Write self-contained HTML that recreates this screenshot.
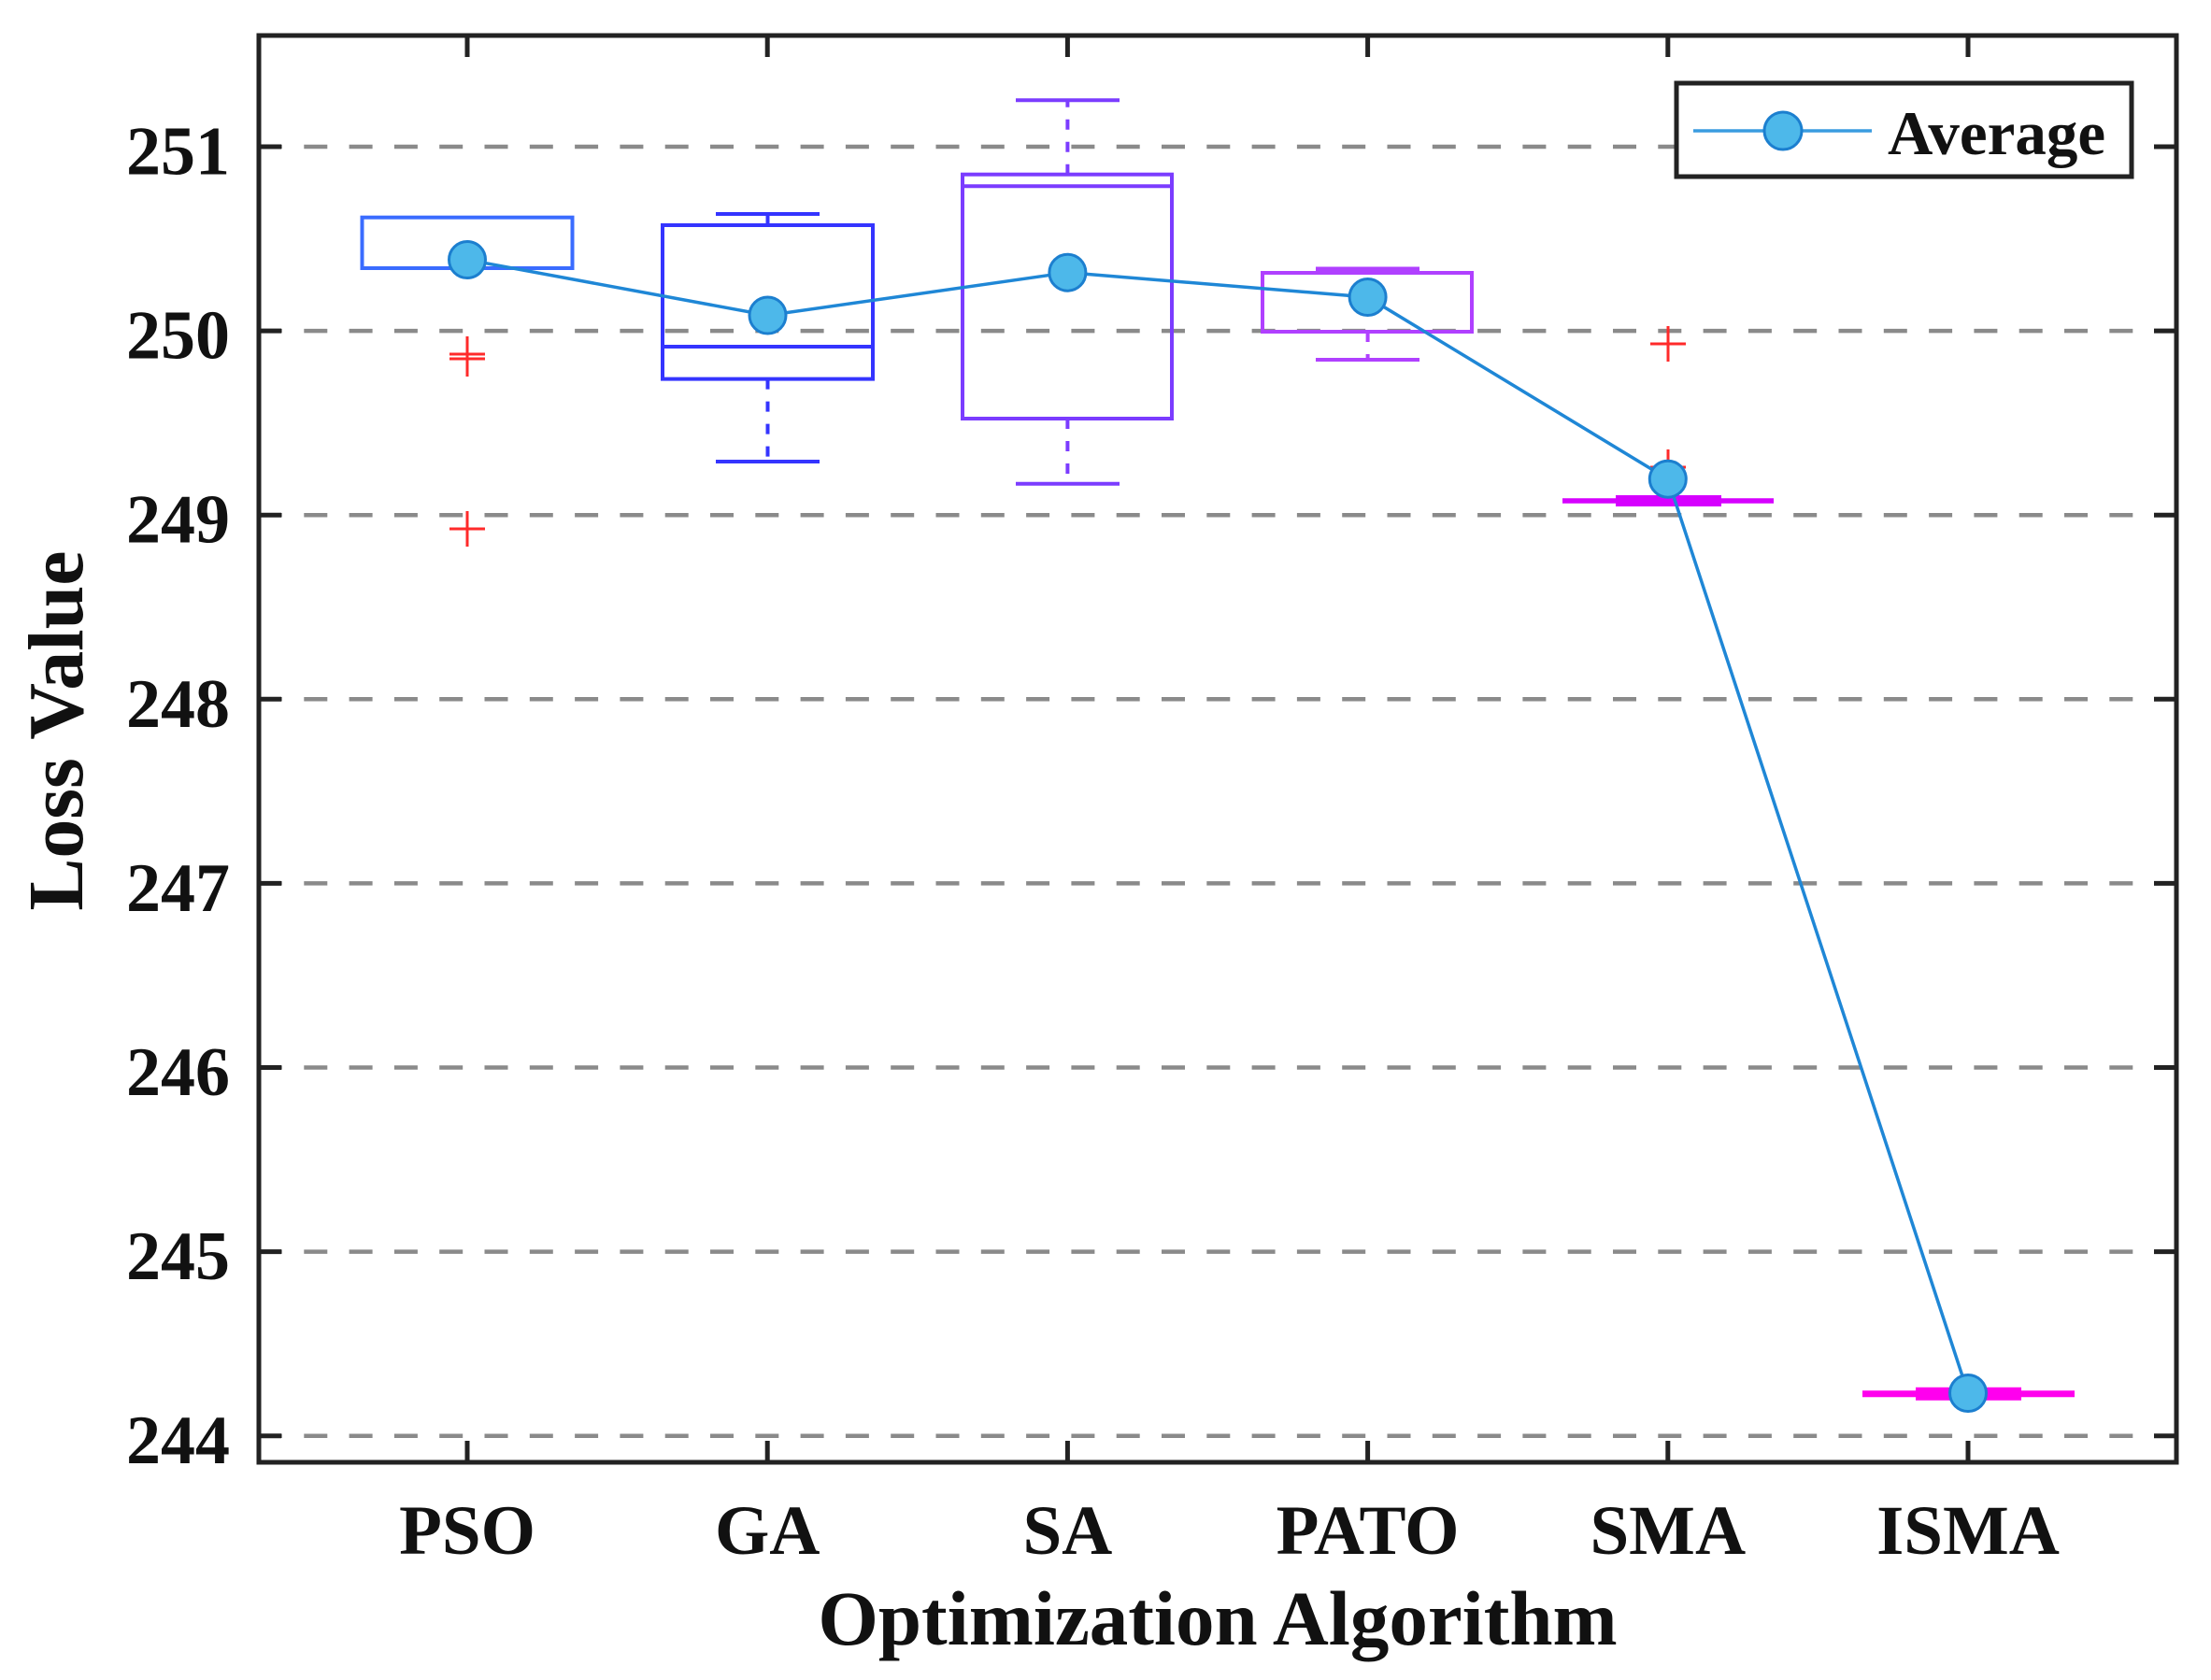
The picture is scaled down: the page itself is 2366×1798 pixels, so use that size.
<!DOCTYPE html>
<html><head><meta charset="utf-8"><style>
html,body{margin:0;padding:0;background:#fff;}
svg{display:block;}
text{font-family:"Liberation Serif","Times New Roman",serif;font-weight:bold;fill:#111;}
</style></head><body>
<svg width="2366" height="1798" viewBox="0 0 2366 1798" xmlns="http://www.w3.org/2000/svg">
<rect x="0" y="0" width="2366" height="1798" fill="#fff"/>
<!-- grid -->
<g stroke="#8a8a8a" stroke-width="4.5" stroke-dasharray="25 23.3" fill="none">
<line x1="277" y1="157.0" x2="2329" y2="157.0"/>
<line x1="277" y1="354.1" x2="2329" y2="354.1"/>
<line x1="277" y1="551.2" x2="2329" y2="551.2"/>
<line x1="277" y1="748.3" x2="2329" y2="748.3"/>
<line x1="277" y1="945.4" x2="2329" y2="945.4"/>
<line x1="277" y1="1142.5" x2="2329" y2="1142.5"/>
<line x1="277" y1="1339.6" x2="2329" y2="1339.6"/>
<line x1="277" y1="1536.7" x2="2329" y2="1536.7"/>
</g>
<!-- PSO -->
<g stroke="#3a6cff" stroke-width="4" fill="none">
<rect x="387.5" y="232.7" width="225" height="54.3"/>
</g>
<!-- GA -->
<g stroke="#3434ff" stroke-width="4" fill="none">
<rect x="709" y="241" width="225" height="164.6"/>
<line x1="709" y1="371" x2="934" y2="371"/>
<line x1="821.5" y1="241" x2="821.5" y2="229" stroke-dasharray="11 13"/>
<line x1="821.5" y1="405.6" x2="821.5" y2="494" stroke-dasharray="11 13"/>
<line x1="766" y1="229" x2="877" y2="229"/>
<line x1="766" y1="494" x2="877" y2="494"/>
</g>
<!-- SA -->
<g stroke="#7b3cff" stroke-width="4" fill="none">
<rect x="1030" y="186.7" width="224" height="261.3"/>
<line x1="1030" y1="199.3" x2="1254" y2="199.3"/>
<line x1="1142.4" y1="186.7" x2="1142.4" y2="107.3" stroke-dasharray="11 13"/>
<line x1="1142.4" y1="448" x2="1142.4" y2="517.7" stroke-dasharray="11 13"/>
<line x1="1087" y1="107.3" x2="1198" y2="107.3"/>
<line x1="1087" y1="517.7" x2="1198" y2="517.7"/>
</g>
<!-- PATO -->
<g stroke="#b040ff" stroke-width="4" fill="none">
<rect x="1351" y="292" width="224" height="63"/>
<line x1="1408" y1="289" x2="1519" y2="289" stroke-width="7"/>
<line x1="1463.6" y1="355" x2="1463.6" y2="385" stroke-dasharray="11 13"/>
<line x1="1408" y1="385" x2="1519" y2="385"/>
</g>
<!-- SMA -->
<g stroke="#d600ff" fill="none">
<line x1="1672" y1="536" x2="1898" y2="536" stroke-width="5.5"/>
<line x1="1729" y1="536" x2="1842" y2="536" stroke-width="12"/>
</g>
<!-- ISMA -->
<g stroke="#ff00ee" fill="none">
<line x1="1993" y1="1491.7" x2="2220" y2="1491.7" stroke-width="7"/>
<line x1="2050" y1="1491.7" x2="2163" y2="1491.7" stroke-width="14"/>
</g>
<!-- outliers -->
<g stroke="#ff2a2a" stroke-width="3" fill="none">
<path d="M481 379H519M500 360V398"/>
<path d="M481 384H519M500 365V403"/>
<path d="M481 566H519M500 547V585"/>
<path d="M1766 368H1804M1785 349V387"/>
<path d="M1766 500H1804M1785 481V519"/>
</g>
<!-- mean line -->
<polyline points="500,278 821.5,337.5 1142.4,291.7 1463.6,318 1784.8,512.7 2106,1491" fill="none" stroke="#1f87d6" stroke-width="3.5"/>
<g fill="#4db8ea" stroke="#1c7fcf" stroke-width="3">
<circle cx="500" cy="278" r="19.5"/>
<circle cx="821.5" cy="337.5" r="19.5"/>
<circle cx="1142.4" cy="291.7" r="19.5"/>
<circle cx="1463.6" cy="318" r="19.5"/>
<circle cx="1784.8" cy="512.7" r="19.5"/>
<circle cx="2106" cy="1491" r="19.5"/>
</g>
<!-- axes -->
<rect x="277" y="38" width="2052" height="1527" fill="none" stroke="#222" stroke-width="5"/>
<g stroke="#222" stroke-width="5">
<!-- x ticks bottom/top -->
<line x1="500" y1="1565" x2="500" y2="1542"/><line x1="500" y1="38" x2="500" y2="61"/>
<line x1="821.2" y1="1565" x2="821.2" y2="1542"/><line x1="821.2" y1="38" x2="821.2" y2="61"/>
<line x1="1142.4" y1="1565" x2="1142.4" y2="1542"/><line x1="1142.4" y1="38" x2="1142.4" y2="61"/>
<line x1="1463.6" y1="1565" x2="1463.6" y2="1542"/><line x1="1463.6" y1="38" x2="1463.6" y2="61"/>
<line x1="1784.8" y1="1565" x2="1784.8" y2="1542"/><line x1="1784.8" y1="38" x2="1784.8" y2="61"/>
<line x1="2106" y1="1565" x2="2106" y2="1542"/><line x1="2106" y1="38" x2="2106" y2="61"/>
<!-- y ticks -->
<line x1="277" y1="157" x2="301" y2="157"/><line x1="2305" y1="157" x2="2329" y2="157"/>
<line x1="277" y1="354.1" x2="301" y2="354.1"/><line x1="2305" y1="354.1" x2="2329" y2="354.1"/>
<line x1="277" y1="551.2" x2="301" y2="551.2"/><line x1="2305" y1="551.2" x2="2329" y2="551.2"/>
<line x1="277" y1="748.3" x2="301" y2="748.3"/><line x1="2305" y1="748.3" x2="2329" y2="748.3"/>
<line x1="277" y1="945.4" x2="301" y2="945.4"/><line x1="2305" y1="945.4" x2="2329" y2="945.4"/>
<line x1="277" y1="1142.5" x2="301" y2="1142.5"/><line x1="2305" y1="1142.5" x2="2329" y2="1142.5"/>
<line x1="277" y1="1339.6" x2="301" y2="1339.6"/><line x1="2305" y1="1339.6" x2="2329" y2="1339.6"/>
<line x1="277" y1="1536.7" x2="301" y2="1536.7"/><line x1="2305" y1="1536.7" x2="2329" y2="1536.7"/>
</g>
<!-- legend -->
<rect x="1794" y="89" width="487" height="100" fill="#fff" stroke="#222" stroke-width="5"/>
<line x1="1812" y1="140" x2="2003" y2="140" stroke="#3a9ce0" stroke-width="3.5"/>
<circle cx="1908" cy="140" r="20" fill="#4db8ea" stroke="#1c7fcf" stroke-width="3"/>
<text x="2020" y="165" font-size="67">Average</text>
<!-- y tick labels -->
<g font-size="74" text-anchor="end">
<text x="246" y="186.5">251</text>
<text x="246" y="383.6">250</text>
<text x="246" y="580.7">249</text>
<text x="246" y="777.8">248</text>
<text x="246" y="974.9">247</text>
<text x="246" y="1172">246</text>
<text x="246" y="1369.1">245</text>
<text x="246" y="1566.2">244</text>
</g>
<!-- x tick labels -->
<g font-size="75" text-anchor="middle">
<text x="500" y="1663">PSO</text>
<text x="821.2" y="1663">GA</text>
<text x="1142.4" y="1663">SA</text>
<text x="1463.6" y="1663">PATO</text>
<text x="1784.8" y="1663">SMA</text>
<text x="2106" y="1663">ISMA</text>
</g>
<text x="1303" y="1760" font-size="83" text-anchor="middle">Optimization Algorithm</text>
<text transform="translate(88,782) rotate(-90)" font-size="84" text-anchor="middle">Loss Value</text>
</svg>
</body></html>
